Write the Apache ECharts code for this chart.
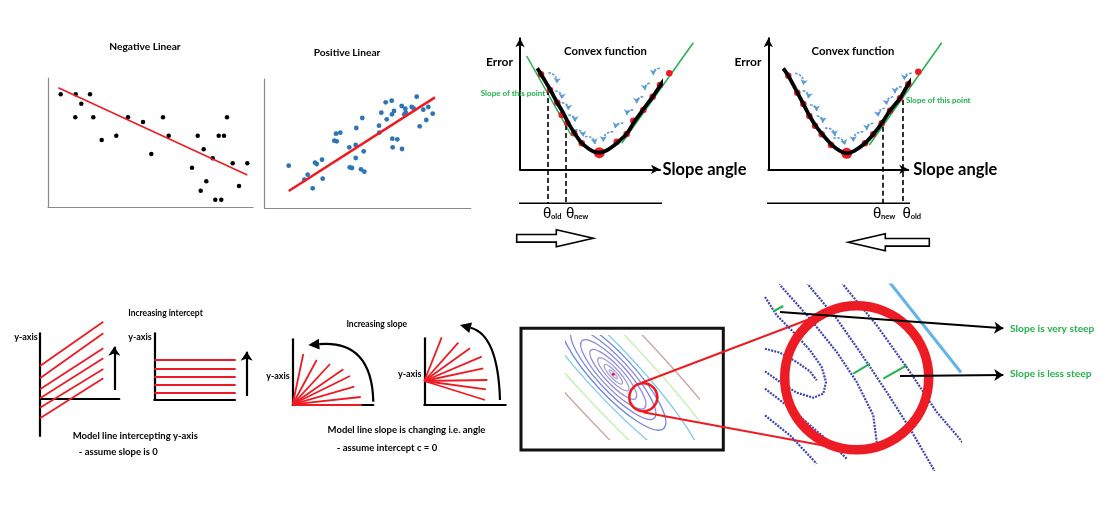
<!DOCTYPE html>
<html><head><meta charset="utf-8">
<script src="https://cdn.jsdelivr.net/npm/echarts@6/dist/echarts.min.js"></script>
<style>html,body{margin:0;padding:0;background:#fff}#c{width:1106px;height:525px}</style>
</head><body><div id="c"></div>
<script>
// ================= DATA (local panel coordinates) =================
// Panel 1: Negative Linear
const negPoints = [[12.7,112.7],[27.7,112.7],[33.3,103.3],[42,112.7],[27.3,89.7],[45.3,89.7],[53.7,67],[68.3,71.3],[80,89.7],[95,85],[103.3,53],[115,89.7],[120.7,71.3],[144,39.3],[149.7,71.3],[155.7,57.7],[152.7,16.3],[158.3,25.7],[164.7,48.7],[167.3,7.3],[173.3,7.3],[170.7,71.3],[176,71.3],[179,89.7],[184.7,43.7],[191,21],[199.3,43.7]];
const negFit = [[10.3,119.3],[199.3,32]];
// Panel 2: Positive Linear
const posPoints = [[24,42.3],[39.6,28.3],[43,33.3],[48,19.7],[50.3,45.3],[52,44],[57.3,48.3],[58,29.3],[69.6,67.3],[72,66.7],[71.3,74.3],[75.6,75.3],[84.6,60.7],[85,40.7],[87.3,40],[91,50],[91,63],[91.6,80],[96.3,38.7],[97.6,90],[99,56.7],[99.6,36.3],[114.3,82.3],[114.6,75.3],[116.6,95.3],[121,105.7],[122,88.7],[127,107.3],[127.3,93.7],[129.3,97],[127.6,69.3],[128,60.7],[132.6,68.7],[137,102],[137.3,59],[139.6,93.7],[140.6,99.3],[141,95.7],[147,101],[149,99.7],[152,111.3],[155,81.7],[158.6,98.3],[161.6,88],[163.6,101],[168,94.3]];
const posFit = [[24,17],[170.3,110.7]];
// Panel 3: Convex function (moving right)
const convexLCurve = [[17.3,101],[21,95],[30,80],[37,67],[43,57],[48,47],[54,37],[61,27],[68,21],[74,17.5],[79.3,16.6],[86,18.5],[93,23],[100,29],[107,36],[114,47],[123,59.5],[133,73],[141,85],[149,96],[153,102]];
const convexLDots = [[21,95],[30,79.3],[37.3,66.6],[41.7,54.3],[47.3,46],[54.3,36],[61.7,26],[96.7,27.6],[106.7,35.3],[113.3,48.6],[123.3,59.3],[132.7,72.6],[140,84.3],[149.3,96]];
const convexLMin = [[79.3,16.6]];
const convexLTangents = [[[6.7,113.3],[51.7,33.3]],[[101.7,26],[173.3,126.6]]];
const convexLDrops = [[[27.7,79.3],[27.7,-34]],[[46,44.3],[46,-34]]];
const convexLBase = [[-35,-34],[193,-34]];
const convexLStepsLeft = [[[28.3,96.6],[36.7,86]],[[35,78.3],[41.7,70.3]],[[41.7,66.6],[48.3,59.3]],[[48.3,54.3],[55,47.6]],[[55,39.3],[63.3,32.6]],[[65,32.6],[75,25.3]]];
const convexLStepsRight = [[[140,101],[133.3,94.3]],[[130,86],[125,79.3]],[[123.3,72.6],[116.7,66]],[[113.3,59.3],[106.7,54.3]],[[103.3,46],[95,41]],[[93.3,37.6],[83.3,27.6]]];
const convexLMove = [[-3.3, 73.3, -69]];
// Panel 4: Convex function (moving left)
const convexRCurve = [[15,101],[20,93.6],[29,77],[35,65.5],[41,54],[47,44],[54,35],[63,25],[70,19.5],[78.4,16],[86,18.5],[96.7,26],[105,35],[113.4,46],[121.7,58.6],[131.7,71],[140,85],[150,97.6],[153.4,101]];
const convexRDots = [[20,93.6],[29,76.6],[35,65.3],[41,53.3],[46.7,43.6],[53.4,35],[62.7,24.3],[96.7,26],[105,35],[113.4,46],[121.7,58.6],[131.7,71],[140,85],[150,97.6]];
const convexRMin = [[78.4,16]];
const convexRTangents = [[[101,24.3],[173.4,126.6]]];
const convexRDrops = [[[114,42.6],[114,-34]],[[134,69.3],[134,-34]]];
const convexRBase = [[-35.3,-34],[193.4,-34]];
const convexRStepsLeft = [[[26.7,96],[35,84.3]],[[34.4,78.6],[40,71]],[[41.7,64.3],[48.4,58.3]],[[48.4,53.3],[54.4,46.6]],[[56.7,41],[66.7,33.3]],[[65,31],[76.7,24.3]]];
const convexRStepsRight = [[[143.4,96],[136,89.3]],[[133.4,82.6],[126.7,76]],[[125,72.6],[118.4,64.3]],[[116.7,61],[110,52.6]],[[105,46],[98.4,39.3]],[[95,37.6],[85,27.6]]];
const convexRMove = [[161, 80, -73]];
// Panel 5: Increasing intercept
const interceptLLines = [[[0,32.3],[63.3,76.6]],[[0,20],[63.3,65]],[[0,9],[63.3,50]],[[0,0],[63.3,40]],[[0,-9.4],[63.3,29.3]],[[0,-20],[63.3,20]]];
const interceptLArrow = [[[74.3,8.3],[74.3,51.6]]];
const interceptRLevels = [39.3,30.3,22.6,14.3,6.6];
const interceptRSpan = [0,81.4];
const interceptRArrow = [[[92.4,3.3],[92.4,47.6]]];
// Panel 6: Increasing slope
const slopeLOrigin = [0,0];
const slopeLEnds = [[10.6,50.3],[24,44.3],[37.3,40.3],[50.6,35],[57.3,28.3],[61.6,17.6],[68,7.3],[69,0]];
const slopeLTurn = [[80.6,2.6,79.3,64.3,15.6,59.3]];
const slopeROrigin = [0,23.3];
const slopeREnds = [[17.4,67],[34,61.6],[45.7,56],[57.4,47.6],[59,36],[63,24.3],[61.7,15],[60.7,4.3]];
const slopeRTurn = [[75.7,4.3,73.7,69.3,35.7,79.3]];
// Panel 7: contour map
const contourCenter = [48.3,65.7];
const contourMajor = [6,13,22,33,46,60,74,130,200,280];
const contourMinor = [1.5,3.5,6,9,12.5,16,20,24,35,48];
const contourColors = ['#b4acde','#a9a3da','#9e9ad9','#938fda','#8a89dc','#7f85de','#7088e2','#84c8ef','#bcefa6','#c6a59e'];
const lensSmall = [[122.3,52.7,14]];
const lensRays = [[[120.7,67.3],[290.7,131.7]],[[122.3,37.7],[309,3.3]]];
// Panel 8: magnified view
const zoomLightLine = [[124.3,188],[128.3,183],[191.7,103],[196,97.5]];
const zoomLines = [
  [[75,190],[80,183],[111.7,144.7],[145,98],[171.7,58],[191.7,34.7],[198,27]],
  [[40,190],[45,183],[71.7,151.3],[95,118],[121.7,78],[145,41.3],[168.3,1.3],[170,-3]],
  [[13,190],[16.7,183],[45,151.3],[71.7,118],[91.7,88],[108.3,54.7],[111.7,28]],
  [[0,173],[11.7,154.7],[28.3,138],[45,119.7],[56.7,103],[61,88],[58.3,76.3],[48.3,72.3],[31.7,77.3],[15,88],[0,98.7]],
  [[0,121.3],[15,117.3],[31.7,108],[45,98.7],[51.7,89.7]],
  [[0,81.3],[21.7,64.7],[45,44.7],[68.3,24.7],[81.7,11.3]],
  [[0,54.7],[25,34.7],[51.7,6.3]]
];
const lensBig = [[91.7,92.2,72]];
const gradientMarks = [[[8.3,158.7],[18.3,164]],[[88.3,96.3],[105,106.3]],[[118.3,91.3],[141.7,104.7]]];
const calloutArrows = [[[15,158],[238.3,141.7]],[[135,94],[238.3,95]]];

// ================= LAYOUT =================
const panels = [
  {l:48,t:78,w:205,h:129,x:[0,205],y:[0,129],axis:'thin'},
  {l:264.7,t:79,w:206,h:129,x:[0,206],y:[0,129],axis:'thin'},
  {l:520,t:38.3,w:140,h:131,x:[0,140],y:[0,131],axis:'arrow'},
  {l:768.3,t:38.3,w:140,h:131,x:[0,140],y:[0,131],axis:'arrow'},
  {l:40,t:333.3,w:79.3,h:102.7,x:[0,79.3],y:[-37.7,65],axis:'bold'},
  {l:154.3,t:333.3,w:80.7,h:66,x:[0,80.7],y:[0,66],axis:'bold'},
  {l:292.7,t:339.3,w:80.6,h:65,x:[0,80.6],y:[0,65],axis:'bold'},
  {l:424.3,t:338.3,w:81.4,h:66,x:[0,81.4],y:[0,66],axis:'bold'},
  {l:521,t:328.3,w:202.3,h:121.7,x:[0,202.3],y:[0,121.7],axis:'none',border:true},
  {l:565,t:335,w:135,h:105,x:[0,135],y:[0,105],axis:'none'},
  {l:765,t:285,w:195,h:185,x:[0,195],y:[0,185],axis:'none'}
];
const RED='#ed1c24', GREEN='#22b14c', BLUE='#2e75b6', SKY='#5b9bd5';

function axisLineFor(kind){
  if(kind==='thin') return {show:true,onZero:true,lineStyle:{color:'#8a8a8a',width:1.2}};
  if(kind==='arrow') return {show:true,onZero:true,symbol:['none','arrow'],symbolSize:[7,9],lineStyle:{color:'#000',width:2}};
  if(kind==='bold') return {show:true,onZero:true,lineStyle:{color:'#000',width:2.2}};
  return {show:false};
}
const grid = panels.map(p=>({left:p.l,top:p.t,width:p.w,height:p.h,containLabel:false,outerBoundsMode:'none',
  show:!!p.border,borderColor:'#111',borderWidth:3,backgroundColor:'transparent'}));
const xAxis = panels.map((p,i)=>({type:'value',gridIndex:i,min:p.x[0],max:p.x[1],show:p.axis!=='none',
  axisLine:axisLineFor(p.axis),axisTick:{show:false},axisLabel:{show:false},splitLine:{show:false}}));
const yAxis = panels.map((p,i)=>({type:'value',gridIndex:i,min:p.y[0],max:p.y[1],show:p.axis!=='none',
  axisLine:axisLineFor(p.axis),axisTick:{show:false},axisLabel:{show:false},splitLine:{show:false}}));

// ================= RENDER HELPERS =================
function hollowArrow(params, api){
  const t = api.coord([api.value(0), api.value(2)]);
  const p = api.coord([api.value(1), api.value(2)]);
  const dir = Math.sign(p[0]-t[0]);
  const headLen = 37, bh = 3.8, hh = 8.5, y = t[1];
  const hb = p[0]-dir*headLen;
  return {type:'polygon',shape:{points:[[t[0],y-bh],[hb,y-bh],[hb,y-hh],[p[0],y],[hb,y+hh],[hb,y+bh],[t[0],y+bh]]},
    style:{fill:'#fff',stroke:'#000',lineWidth:1.6}};
}
function curvedArrow(params, api){
  const p0 = api.coord([api.value(0), api.value(1)]);
  const pc = api.coord([api.value(2), api.value(3)]);
  const p1 = api.coord([api.value(4), api.value(5)]);
  const a = Math.atan2(p1[1]-pc[1], p1[0]-pc[0]);
  const L = 11, W = 5.5;
  const b = [p1[0]-L*Math.cos(a), p1[1]-L*Math.sin(a)];
  return {type:'group',children:[
    {type:'bezierCurve',shape:{x1:p0[0],y1:p0[1],cpx1:pc[0],cpy1:pc[1],x2:b[0],y2:b[1]},style:{stroke:'#000',lineWidth:2.2,fill:'none'}},
    {type:'polygon',shape:{points:[p1,[b[0]+W*Math.sin(a),b[1]-W*Math.cos(a)],[b[0]-W*Math.sin(a),b[1]+W*Math.cos(a)]]},style:{fill:'#000'}}
  ]};
}
function ring(width){
  return function(params, api){
    const c = api.coord([api.value(0), api.value(1)]);
    const r = api.size([api.value(2), 0])[0];
    return {type:'circle',shape:{cx:c[0],cy:c[1],r:r},style:{fill:'none',stroke:RED,lineWidth:width}};
  };
}
function contour(params, api){
  const i = params.dataIndex;
  const c = api.coord(contourCenter);
  const s = api.size([contourMajor[i], contourMinor[i]]);
  return {type:'group',x:c[0],y:c[1],rotation:-47*Math.PI/180,children:[
    {type:'ellipse',shape:{cx:0,cy:0,rx:s[0],ry:s[1]},style:{fill:'none',stroke:contourColors[i],lineWidth:1.3}}
  ]};
}
const ax = i => ({xAxisIndex:i,yAxisIndex:i});
const seg = arr => arr.map(c=>({coords:c}));
const series = [];
function lineS(i, data, style, extra){ series.push(Object.assign({type:'line',...ax(i),data,symbol:'none',showSymbol:false,clip:false,silent:true,animation:false,lineStyle:Object.assign({opacity:1},style)},extra||{})); }
function linesS(i, data, style, extra){ series.push(Object.assign({type:'lines',coordinateSystem:'cartesian2d',...ax(i),data:seg(data),clip:false,silent:true,symbol:'none',lineStyle:Object.assign({opacity:1},style)},extra||{})); }
function dotsS(i, data, size, color, extra){ series.push(Object.assign({type:'scatter',...ax(i),data,symbolSize:size,itemStyle:{color,opacity:1},silent:true,clip:false},extra||{})); }

// Panel 1 & 2
dotsS(0, negPoints, 4.5, '#000');
lineS(0, negFit, {color:RED,width:1.6});
dotsS(1, posPoints, 4.8, BLUE);
lineS(1, posFit, {color:RED,width:2.6});

// Convex panels
function convex(i, curve, dots, mn, tangents, drops, base, stepsL, stepsR, move){
  linesS(i, tangents, {color:GREEN,width:1.5});
  linesS(i, drops, {color:'#000',width:1.6,type:[5,3]});
  lineS(i, base, {color:'#000',width:1.6});
  lineS(i, curve, {color:'#000',width:3.8}, {smooth:0.25});
  dotsS(i, dots, 6.5, RED);
  dotsS(i, mn, 11, RED);
  linesS(i, stepsL, {color:SKY,width:1.6,type:[2.5,1.5],curveness:0.5}, {symbol:['none','arrow'],symbolSize:5.5});
  linesS(i, stepsR, {color:SKY,width:1.6,type:[2.5,1.5],curveness:-0.5}, {symbol:['none','arrow'],symbolSize:5.5});
  series.push({type:'custom',...ax(i),data:move,renderItem:hollowArrow,clip:false,silent:true});
}
convex(2, convexLCurve, convexLDots, convexLMin, convexLTangents, convexLDrops, convexLBase, convexLStepsLeft, convexLStepsRight, convexLMove);
convex(3, convexRCurve, convexRDots, convexRMin, convexRTangents, convexRDrops, convexRBase, convexRStepsLeft, convexRStepsRight, convexRMove);

// Intercept panels
linesS(4, interceptLLines, {color:RED,width:1.8});
linesS(4, interceptLArrow, {color:'#000',width:2.2}, {symbol:['none','arrow'],symbolSize:9});
linesS(5, interceptRLevels.map(v=>[[interceptRSpan[0],v],[interceptRSpan[1],v]]), {color:RED,width:1.8});
linesS(5, interceptRArrow, {color:'#000',width:2.2}, {symbol:['none','arrow'],symbolSize:9});

// Slope panels
linesS(6, slopeLEnds.map(e=>[slopeLOrigin,e]), {color:RED,width:1.8});
series.push({type:'custom',...ax(6),data:slopeLTurn,renderItem:curvedArrow,clip:false,silent:true});
linesS(7, slopeREnds.map(e=>[slopeROrigin,e]), {color:RED,width:1.8});
series.push({type:'custom',...ax(7),data:slopeRTurn,renderItem:curvedArrow,clip:false,silent:true});

// Contour map
series.push({type:'custom',...ax(9),data:contourMinor.map((v,k)=>[k,v]),renderItem:contour,clip:true,silent:true});
dotsS(9, [contourCenter], 3, RED);
linesS(8, lensRays, {color:RED,width:2});
series.push({type:'custom',...ax(8),data:lensSmall,renderItem:ring(2.6),clip:false,silent:true});

// Magnified view
linesS(10, [zoomLightLine], {color:'#63b4ea',width:3}, {polyline:true,clip:true});
linesS(10, zoomLines, {color:'#3d44b0',width:2.2,type:[2,1.2]}, {polyline:true,clip:true});
series.push({type:'custom',...ax(10),data:lensBig,renderItem:ring(9.5),clip:false,silent:true});
linesS(10, gradientMarks, {color:GREEN,width:2});
linesS(10, calloutArrows, {color:'#000',width:2}, {symbol:['none','arrow'],symbolSize:[7,9]});

// ================= TEXT =================
const F = 'Lato, "Open Sans", sans-serif';
const labels = [
  ['Negative Linear',145,47,10.2,'#000','center'],
  ['Positive Linear',347,53,10.2,'#000','center'],
  ['Error',499.5,62,12,'#000','center'],
  ['Convex function',605.5,51,11.3,'#000','center'],
  ['Slope angle',662.5,169.5,16.5,'#000','left'],
  ['Slope of this point',513,93,8,GREEN,'center'],
  ['Error',748,62.3,12,'#000','center'],
  ['Convex function',853,51.7,11.3,'#000','center'],
  ['Slope angle',913.3,170,16.5,'#000','left'],
  ['Slope of this point',906,100.7,8,GREEN,'left'],
  ['Increasing intercept',165.5,313.3,8.5,'#000','center'],
  ['y-axis',26,336.7,9,'#000','center'],
  ['y-axis',140,336.7,9,'#000','center'],
  ['Model line intercepting y-axis',135.3,435.7,9.5,'#000','center'],
  ['- assume slope is 0',118.3,451.7,9.5,'#000','center'],
  ['Increasing slope',376.7,324,8.5,'#000','center'],
  ['y-axis',278,376,9,'#000','center'],
  ['y-axis',409.7,374,9,'#000','center'],
  ['Model line slope is changing i.e. angle',406.5,430,9.5,'#000','center'],
  ['- assume intercept c = 0',387,448.3,9.5,'#000','center'],
  ['Slope is very steep',1010,328.3,10.2,GREEN,'left'],
  ['Slope is less steep',1010,374,10.2,GREEN,'left']
];
const thetas = [
  ['old',543,551],['new',566,574],['new',873,881],['old',902.5,910.7]
];
const graphic = [];
labels.forEach(([t,x,y,s,c,al])=>graphic.push({type:'text',x,y,silent:true,z:100,
  style:{text:t,font:`bold ${s}px ${F}`,fill:c,align:al,textAlign:al,verticalAlign:'middle',textVerticalAlign:'middle'}}));
thetas.forEach(([sub,xt,xs])=>{
  graphic.push({type:'text',x:xt,y:214,silent:true,z:100,style:{text:'θ',font:'15px "Liberation Sans", Arial, sans-serif',fill:'#000',align:'left',textAlign:'left',verticalAlign:'middle',textVerticalAlign:'middle'}});
  graphic.push({type:'text',x:xs,y:216.5,silent:true,z:100,style:{text:sub,font:`bold 7.5px ${F}`,fill:'#000',align:'left',textAlign:'left',verticalAlign:'middle',textVerticalAlign:'middle'}});
});

const chart = echarts.init(document.getElementById('c'), null, {renderer:'canvas'});
chart.setOption({animation:false,backgroundColor:'#fff',grid,xAxis,yAxis,series,graphic});
</script></body></html>
